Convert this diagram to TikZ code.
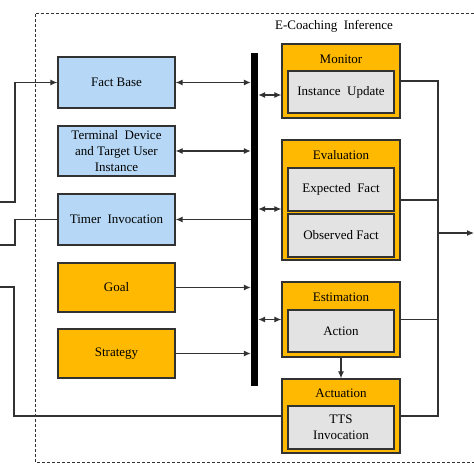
\documentclass[tikz,border=0pt]{standalone}
\usepackage{fontspec}
\setmainfont{Liberation Serif}
\usetikzlibrary{arrows.meta}
\definecolor{factblue}{RGB}{182,216,246}
\definecolor{gold}{RGB}{255,185,0}
\definecolor{panel}{RGB}{227,227,227}
\definecolor{edge}{RGB}{50,50,50}
\begin{document}
\begin{tikzpicture}[x=1pt,y=-1pt,
    font=\fontsize{13}{16}\selectfont,
    >={Latex[length=7pt,width=6pt]},
    wire/.style={draw=edge,line width=1.1pt},
    kbox/.style={draw=edge,line width=1.3pt,minimum width=117pt,align=center,inner sep=1pt},
    kbblue/.style={kbox,fill=factblue},
    kbgold/.style={kbox,fill=gold},
    stage/.style={draw=edge,line width=1.3pt,fill=gold,minimum width=118pt,inner sep=0pt},
    inner/.style={draw=edge,line width=1.3pt,fill=panel,minimum width=106pt,minimum height=42pt,align=center,inner sep=1pt}]
    \useasboundingbox (0,0) rectangle (474,474);
    \draw[edge,dash pattern=on 3pt off 2pt,line width=1pt] (474,13) -- (35,13) -- (35,462) -- (474,462);
    \node (title) at (334,26) {E-Coaching\ \ Inference};

    \node[kbblue,minimum height=51pt] (fact) at (116.5,82.5) {Fact Base};
    \node[kbblue,minimum height=50pt] (term) at (116.5,151) {Terminal\ \ Device\\and Target User\\Instance};
    \node[kbblue,minimum height=51pt] (timer) at (116.5,219.5) {Timer\ \ Invocation};
    \node[kbgold,minimum height=49pt] (goal) at (116.5,287.5) {Goal};
    \node[kbgold,minimum height=49pt] (strat) at (116.5,353.5) {Strategy};

    \node[fill=black,minimum width=7pt,minimum height=333pt,inner sep=0pt] (bus) at (254.5,219.5) {};

    \node[stage,minimum height=74pt] (mon) at (341,81) {};
    \node (monT) at (341,59) {Monitor};
    \node[inner] (monI) at (341,92) {Instance\ \ Update};

    \node[stage,minimum height=120pt] (eval) at (341,200) {};
    \node (evalT) at (341,155) {Evaluation};
    \node[inner,minimum height=43pt] (exp) at (341,189.5) {Expected\ \ Fact};
    \node[inner,minimum height=43pt] (obs) at (341,235.5) {Observed Fact};

    \node[stage,minimum height=75pt] (est) at (341,319.5) {};
    \node (estT) at (341,297) {Estimation};
    \node[inner] (act) at (341,331) {Action};

    \node[stage,minimum height=74pt] (actu) at (341,416) {};
    \node (actuT) at (341,393) {Actuation};
    \node[inner,minimum height=43pt] (tts) at (341,427.5) {TTS\\Invocation};

    \draw[wire,<->] (fact.east) -- (fact.east -| bus.west);
    \draw[wire,<->] (term.east) -- (term.east -| bus.west);
    \draw[wire,->] (timer.east -| bus.west) -- (timer.east);
    \draw[wire,->] (goal.east) -- (goal.east -| bus.west);
    \draw[wire,->] (strat.east) -- (strat.east -| bus.west);

    \coordinate (monA) at ([yshift=-14pt]mon.west);
    \coordinate (evalA) at ([yshift=-9pt]eval.west);
    \draw[wire,<->] (monA -| bus.east) -- (monA);
    \draw[wire,<->] (evalA -| bus.east) -- (evalA);
    \draw[wire,<->] (est.west -| bus.east) -- (est.west);
    \draw[wire,->] (est.south) -- (actu.north);

    \coordinate (join) at (438,233);
    \coordinate (exit) at (474,233);
    \draw[wire] (mon.east) -| (join);
    \draw[wire] (actu.east) -| (join);
    \draw[wire] (eval.east) -- (eval.east -| join);
    \draw[wire] (est.east) -- (est.east -| join);
    \draw[wire,->] (join) -- (exit);

    \coordinate (factIn) at (0,202);
    \coordinate (factK) at (15,202);
    \draw[wire,->] (factIn) -- (factK) |- (fact.west);
    \coordinate (timerK) at (15,245);
    \coordinate (timerOut) at (0,245);
    \draw[wire] (timer.west) -| (timerK) -- (timerOut);
    \coordinate (loopIn) at (0,287);
    \coordinate (loopK) at (14,416);
    \draw[wire] (loopIn) -| (loopK) -- (actu.west);
\end{tikzpicture}
\end{document}
